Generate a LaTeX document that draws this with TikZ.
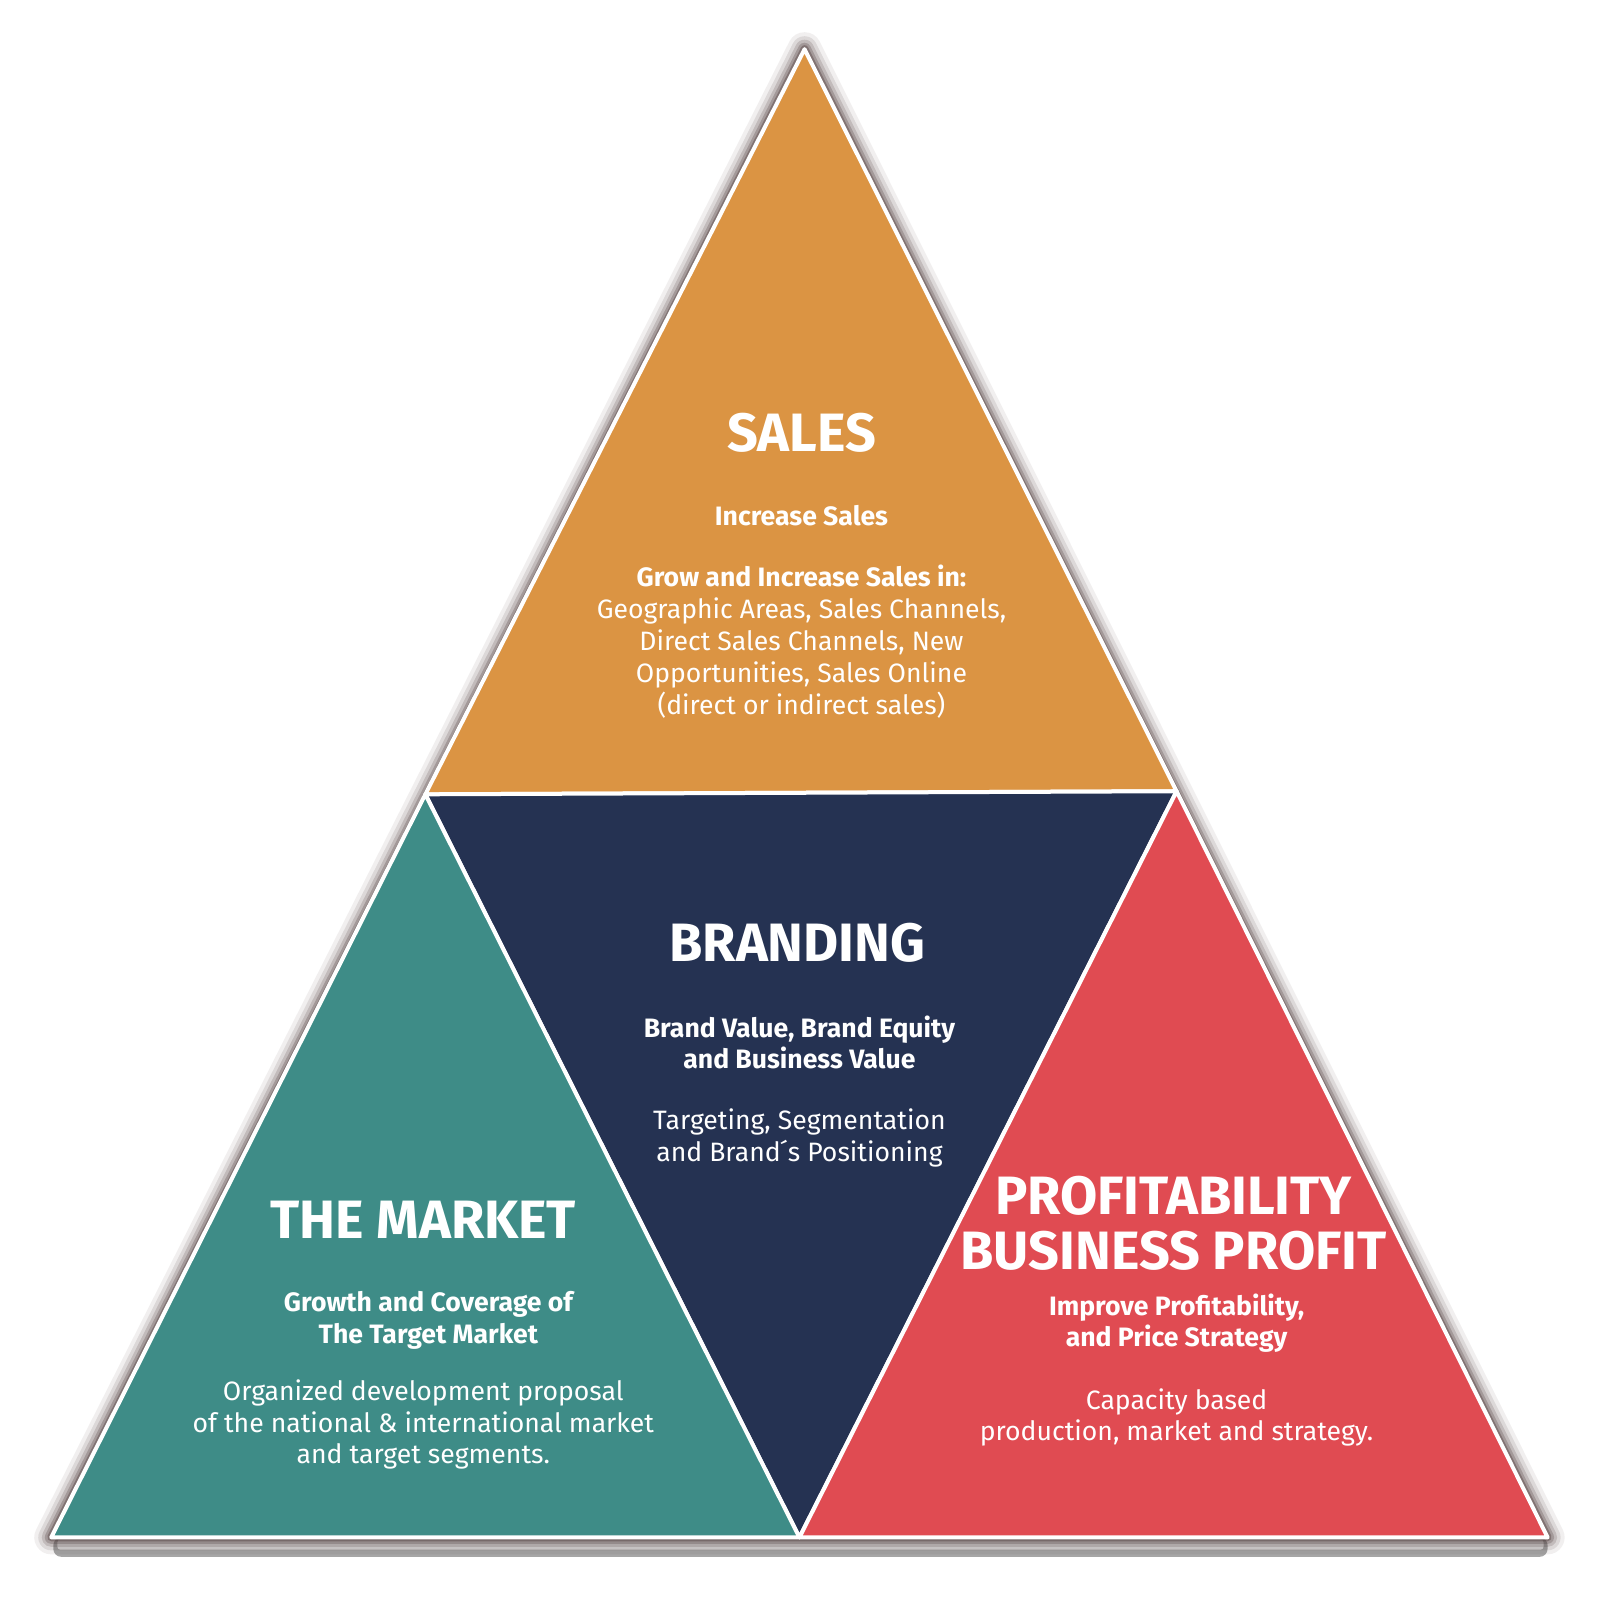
\documentclass[tikz,border=0pt]{standalone}
\usepackage{fontspec}
\setmainfont{Fira Sans}
\definecolor{salesc}{HTML}{DB9443}
\definecolor{brandc}{HTML}{253252}
\definecolor{marketc}{HTML}{3E8C87}
\definecolor{profitc}{HTML}{E04B52}
\definecolor{shadowc}{HTML}{4A3636}
\begin{document}
\begin{tikzpicture}[x=1.025pt,y=-1.025pt,font=\fontsize{26.6}{31.8}\selectfont,
    piece/.style={draw=white,line width=4pt,line join=round},
    head/.style={text=white,font=\fontsize{54}{55}\selectfont\bfseries,align=center},
    sub/.style={text=white,font=\fontsize{26.6}{31.8}\selectfont\bfseries,align=center},
    body/.style={text=white,align=center},
    glow/.style={draw=shadowc,line join=round}]
    \clip (0,0) rectangle (1561,1566);
    \useasboundingbox (0,0) rectangle (1561,1566);
    % corner points
    \coordinate (top) at (785,48);
    \coordinate (ml) at (415,775);
    \coordinate (mr) at (1148,772);
    \coordinate (bl) at (50,1500);
    \coordinate (bm) at (780,1500);
    \coordinate (br) at (1510,1500);
    % base bar and soft shadow
    \fill[black!35,rounded corners=8pt] (52,1500) rectangle (1510,1519);
    \fill[black!10,rounded corners=3pt] (56,1502) rectangle (1506,1512);
    \foreach \w/\o in {34/.08,26/.12,19/.18,13/.26,8/.38}
      \draw[glow,line width=\w pt,opacity=\o] (top) -- (br) -- (bl) -- cycle;
    % the four pieces
    \filldraw[piece,fill=salesc] (top) -- (mr) -- (ml) -- cycle;
    \filldraw[piece,fill=brandc] (ml) -- (mr) -- (bm) -- cycle;
    \filldraw[piece,fill=marketc] (ml) -- (bm) -- (bl) -- cycle;
    \filldraw[piece,fill=profitc] (mr) -- (br) -- (bm) -- cycle;
    % sales
    \node[head] (salesh) at (782,422) {SALES};
    \node[sub] (salessub) at (782,503) {Increase Sales};
    \node[body] (salesbody) at (782,626) {\textbf{Grow and Increase Sales in:}\\Geographic Areas, Sales Channels,\\Direct Sales Channels, New\\Opportunities, Sales Online\\(direct or indirect sales)};
    % branding
    \node[head] (brandh) at (778,920) {BRANDING};
    \node[sub] (brandsub) at (780,1017) {Brand Value, Brand Equity\\and Business Value};
    \node[body] (brandbody) at (780,1110) {Targeting, Segmentation\\and Brand\'{}s Positioning};
    % market
    \node[head] (marketh) at (413,1190) {THE MARKET};
    \node[sub] (marketsub) at (418,1288) {Growth and Coverage of\\The Target Market};
    \node[body] (marketbody) at (413,1390) {Organized development proposal\\of the national \& international market\\and target segments.};
    % profit
    \node[head] (profith) at (1145,1194) {PROFITABILITY\\BUSINESS PROFIT};
    \node[sub] (profitsub) at (1148,1291) {Improve Profitability,\\and Price Strategy};
    \node[body] (profitbody) at (1148,1383) {Capacity based\\production, market and strategy.};
\end{tikzpicture}
\end{document}
